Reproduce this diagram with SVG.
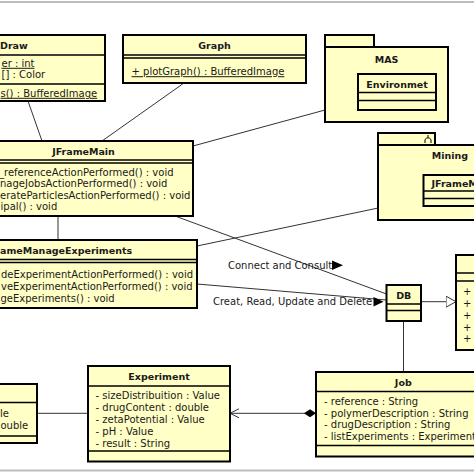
<svg xmlns="http://www.w3.org/2000/svg" width="474" height="474" viewBox="0 0 474 474">
<style>
.box{fill:#ffffc6;stroke:#000;stroke-width:2}
.sep{stroke:#000;stroke-width:1.5}
.t{font-family:"DejaVu Sans","Liberation Sans",sans-serif;font-size:10px;fill:#1a1a1a}
.b{font-weight:bold;font-size:9.5px}
.m{text-anchor:middle}
.c{stroke:#333;stroke-width:1;fill:none}
.u{text-decoration:underline}
</style>
<defs>
<marker id="gen" markerUnits="userSpaceOnUse" markerWidth="12" markerHeight="12" refX="10" refY="5.5" orient="auto"><path d="M0,0 L10,5.5 L0,11 Z" fill="#fff" stroke="#333" stroke-width="1"/></marker>
<marker id="dia" markerUnits="userSpaceOnUse" markerWidth="14" markerHeight="10" refX="0" refY="4" orient="auto"><path d="M0,4 L6,0 L12,4 L6,8 Z" fill="#000"/></marker>
<marker id="open" markerUnits="userSpaceOnUse" markerWidth="12" markerHeight="12" refX="9" refY="4.5" orient="auto"><path d="M0,0 L9,4.5 L0,9" fill="none" stroke="#333" stroke-width="1"/></marker>
</defs>
<rect x="0" y="0" width="474" height="474" fill="#fff"/>
<line x1="0" y1="2" x2="474" y2="2" stroke="#bdbdbd" stroke-width="2"/>
<line x1="0" y1="470.5" x2="474" y2="470.5" stroke="#bdbdbd" stroke-width="2"/>

<g id="connectors">
<line class="c" x1="28" y1="101" x2="42" y2="141"/>
<line class="c" x1="184" y1="83" x2="102" y2="141"/>
<line class="c" x1="193" y1="146" x2="358" y2="101"/>
<line class="c" x1="58" y1="216" x2="58" y2="240"/>
<line class="c" x1="175" y1="216" x2="386.5" y2="294"/>
<line class="c" x1="197" y1="284" x2="386.5" y2="300"/>
<line class="c" x1="197" y1="246" x2="423.5" y2="198.5"/>
<line class="c" x1="421" y1="301.7" x2="456" y2="301.7" marker-end="url(#gen)"/>
<line class="c" x1="403.5" y1="321" x2="403.5" y2="372"/>
<line class="c" x1="316" y1="413.3" x2="230" y2="413.3" marker-start="url(#dia)" marker-end="url(#open)"/>
<line class="c" x1="37" y1="413.3" x2="88" y2="413.3"/>
<text class="t" x="228" y="268.5">Connect and Consult</text>
<polygon points="332,260.5 343,265.3 332,270" fill="#000"/>
<text class="t" x="213" y="305.2">Creat, Read, Update and Delete</text>
<polygon points="373.5,297 383.5,301.7 373.5,306.5" fill="#000"/>
</g>

<g id="draw">
<rect class="box" x="-10" y="35" width="115" height="66"/>
<line class="sep" x1="-10" y1="55" x2="105" y2="55"/>
<line class="sep" x1="-10" y1="84" x2="105" y2="84"/>
<text class="t b" x="0" y="48.5">Draw</text>
<text class="t u" x="1.5" y="66.8">er : int</text>
<text class="t" x="1.5" y="77.8">[] : Color</text>
<text class="t u" x="0.5" y="96.8">s() : BufferedImage</text>
</g>

<g id="graph">
<rect class="box" x="123" y="35" width="183" height="48"/>
<line class="sep" x1="123" y1="55" x2="306" y2="55"/>
<line class="sep" x1="123" y1="58" x2="306" y2="58"/>
<text class="t b m" x="214.5" y="48.5">Graph</text>
<text class="t u" x="131.5" y="75.2">+ plotGraph() : BufferedImage</text>
</g>

<g id="mas">
<path class="box" d="M325,47 V35 H374 V47"/>
<rect class="box" x="325" y="47" width="123" height="75"/>
<text class="t b m" x="386.5" y="63">MAS</text>
<rect class="box" x="358" y="74" width="78" height="36"/>
<line class="sep" x1="358" y1="92.5" x2="436" y2="92.5"/>
<line class="sep" x1="358" y1="100.5" x2="436" y2="100.5"/>
<text class="t b m" x="397" y="87.5">Environmet</text>
</g>

<g id="jframemain">
<rect class="box" x="-27" y="141" width="220" height="75"/>
<line class="sep" x1="-27" y1="160" x2="193" y2="160"/>
<line class="sep" x1="-27" y1="163" x2="193" y2="163"/>
<text class="t b m" x="83.5" y="155">JFrameMain</text>
<text class="t" x="-1" y="175.5">_referenceActionPerformed() : void</text>
<text class="t" x="0" y="187">nageJobsActionPerformed() : void</text>
<text class="t" x="0" y="198.5">erateParticlesActionPerformed() : void</text>
<text class="t" x="0.5" y="210">ipal() : void</text>
</g>

<g id="jframemanageexperiments">
<rect class="box" x="-40" y="240" width="237" height="68"/>
<line class="sep" x1="-40" y1="259.5" x2="197" y2="259.5"/>
<line class="sep" x1="-40" y1="262.5" x2="197" y2="262.5"/>
<text class="t b" x="0" y="253.5">ameManageExperiments</text>
<text class="t" x="1" y="277.5">deExperimentActionPerformed() : void</text>
<text class="t" x="1" y="289.5">veExperimentActionPerformed() : void</text>
<text class="t" x="0.5" y="301.5">geExperiments() : void</text>
</g>

<g id="mining">
<path class="box" d="M378,145 V133 H435 V145"/>
<path d="M425,143 V139.5 Q428,136 431,139.5 V143 M428,137.5 V135" fill="none" stroke="#000" stroke-width="1"/>
<rect class="box" x="378" y="145" width="110" height="75"/>
<text class="t b m" x="450" y="158.5">Mining</text>
<rect class="box" x="423.5" y="175" width="70" height="31"/>
<line class="sep" x1="423.5" y1="191" x2="493.5" y2="191"/>
<line class="sep" x1="423.5" y1="198.5" x2="493.5" y2="198.5"/>
<text class="t b" x="431.5" y="187">JFrameM</text>
</g>

<g id="db">
<rect class="box" x="386.5" y="285" width="34.5" height="36"/>
<line class="sep" x1="386.5" y1="304" x2="421" y2="304"/>
<line class="sep" x1="386.5" y1="310.5" x2="421" y2="310.5"/>
<text class="t b m" x="403.7" y="298.5">DB</text>
</g>

<g id="interface">
<rect class="box" x="456" y="255" width="50" height="95"/>
<line class="sep" x1="456" y1="273" x2="506" y2="273"/>
<line class="sep" x1="456" y1="281" x2="506" y2="281"/>
<text class="t" x="463" y="295.2">+</text>
<text class="t" x="463" y="307">+</text>
<text class="t" x="463" y="318.7">+</text>
<text class="t" x="463" y="330.5">+</text>
<text class="t" x="463" y="342.3">+</text>
</g>

<g id="job">
<rect class="box" x="316" y="372" width="180" height="84.5"/>
<line class="sep" x1="316" y1="391.5" x2="496" y2="391.5"/>
<line class="sep" x1="316" y1="445.5" x2="496" y2="445.5"/>
<text class="t b m" x="403.3" y="386.2">Job</text>
<text class="t" x="324" y="405.3">- reference : String</text>
<text class="t" x="324" y="416.8">- polymerDescription : String</text>
<text class="t" x="324" y="428.3">- drugDescription : String</text>
<text class="t" x="324" y="439.8">- listExperiments : Experiment</text>
</g>

<g id="experiment">
<rect class="box" x="88" y="366" width="142" height="95.5"/>
<line class="sep" x1="88" y1="386" x2="230" y2="386"/>
<line class="sep" x1="88" y1="451" x2="230" y2="451"/>
<text class="t b m" x="159" y="380.3">Experiment</text>
<text class="t" x="95.5" y="399">- sizeDistribuition : Value</text>
<text class="t" x="95.5" y="411">- drugContent : double</text>
<text class="t" x="95.5" y="423">- zetaPotential : Value</text>
<text class="t" x="95.5" y="435">- pH : Value</text>
<text class="t" x="95.5" y="447">- result : String</text>
</g>

<g id="leftbox">
<rect class="box" x="-20" y="384" width="57" height="59"/>
<line class="sep" x1="-20" y1="402.5" x2="37" y2="402.5"/>
<line class="sep" x1="-20" y1="436" x2="37" y2="436"/>
<text class="t" x="0" y="417">le</text>
<text class="t" x="0.5" y="428.5">ouble</text>
</g>
</svg>
